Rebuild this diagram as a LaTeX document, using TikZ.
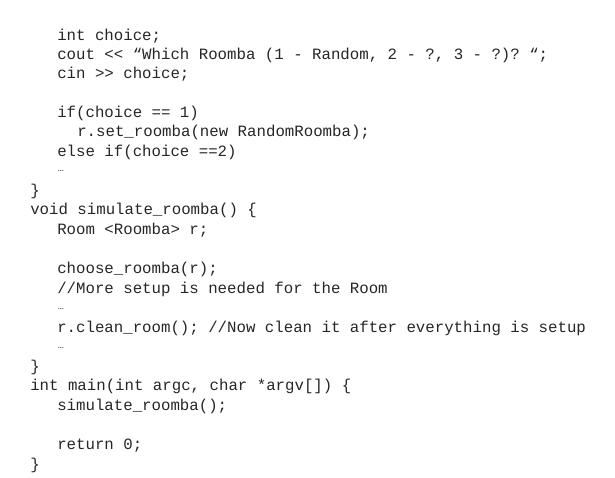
\documentclass[tikz,border=0pt]{standalone}
\usepackage{fontspec}
\setmonofont{Liberation Mono}
\begin{document}
\begin{tikzpicture}[x=0.75pt,y=-0.75pt,
  code/.style={anchor=west,inner sep=0pt,font=\ttfamily\fontsize{11.8pt}{13pt}\selectfont,text=black!85}]
\useasboundingbox (0,0) rectangle (615,478);
\node[code] (l1) at (57,36) {int choice;};
\node[code] (l2) at (57,55) {cout << “Which Roomba (1 - Random, 2 - ?, 3 - ?)? “;};
\node[code] (l3) at (57,74) {cin >> choice;};
\node[code] (l4) at (57,113) {if(choice == 1)};
\node[code] (l5) at (77,132) {r.set\_roomba(new RandomRoomba);};
\node[code] (l6) at (57,152) {else if(choice ==2)};
\node[code,font=\fontsize{7pt}{8pt}\selectfont] (l7) at (57,171) {…};
\node[code] (l8) at (30,191) {\}};
\node[code] (l9) at (30,210) {void simulate\_roomba() \{};
\node[code] (l10) at (57,230) {Room <Roomba> r;};
\node[code] (l11) at (57,269) {choose\_roomba(r);};
\node[code] (l12) at (57,289) {//More setup is needed for the Room};
\node[code,font=\fontsize{7pt}{8pt}\selectfont] (l13) at (57,309) {…};
\node[code] (l14) at (57,328) {r.clean\_room(); //Now clean it after everything is setup};
\node[code,font=\fontsize{7pt}{8pt}\selectfont] (l15) at (57,348) {…};
\node[code] (l16) at (30,367) {\}};
\node[code] (l17) at (30,386) {int main(int argc, char *argv[]) \{};
\node[code] (l18) at (57,406) {simulate\_roomba();};
\node[code] (l19) at (57,446) {return 0;};
\node[code] (l20) at (30,465) {\}};
\end{tikzpicture}
\end{document}
